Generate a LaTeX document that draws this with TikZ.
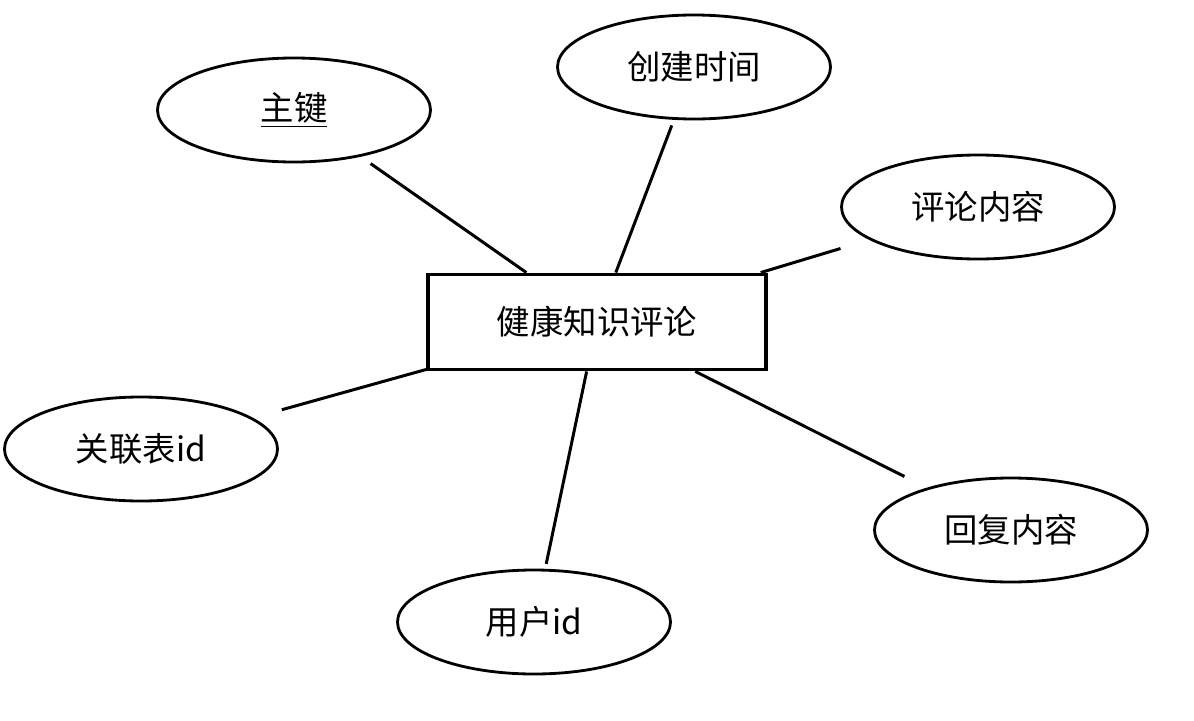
\documentclass[tikz,border=0pt]{standalone}
\usepackage{fontspec}
\setmainfont{Noto Sans CJK SC}
\usetikzlibrary{shapes.geometric}

\begin{document}
\begin{tikzpicture}[
    entity/.style={draw, rectangle, line width=2.2pt, minimum width=6.76cm, minimum height=1.9cm, font=\fontsize{19}{22}\selectfont},
    attr/.style={draw, ellipse, line width=1.6pt, inner sep=0pt, minimum width=5.46cm, minimum height=2.08cm, font=\fontsize{19}{22}\selectfont},
    link/.style={line width=1.7pt}
]
\useasboundingbox (0,0) rectangle (23.88,-14.4);

% Nodes
\node[entity] (comment) at (11.94,-6.44) {健康知识评论};
\node[attr] (key) at (5.88,-2.2) {\underline{主键}};
\node[attr] (ctime) at (13.88,-1.34) {创建时间};
\node[attr] (content) at (19.56,-4.14) {评论内容};
\node[attr] (linkid) at (2.82,-8.98) {关联表id};
\node[attr] (reply) at (20.22,-10.6) {回复内容};
\node[attr] (userid) at (10.68,-12.44) {用户id};

% Lines
\draw[link, shorten <=0.24cm] (key) -- (comment);
\draw[link, shorten <=0.12cm] (ctime) -- (comment);
\draw[link, shorten <=0.6cm] (content) -- (comment);
\draw[link, shorten <=0.6cm] (linkid) -- (comment);
\draw[link, shorten <=0.5cm] (reply) -- (comment);
\draw[link, shorten <=0.1cm] (userid) -- (comment);

\end{tikzpicture}
\end{document}
